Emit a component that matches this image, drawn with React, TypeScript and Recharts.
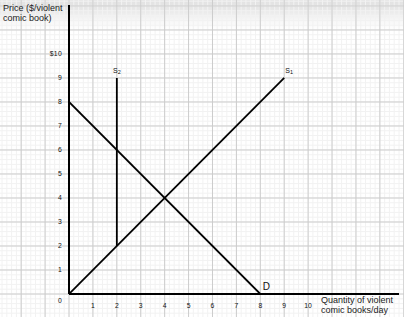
import React from "react";
import { ComposedChart, Line, XAxis, YAxis, CartesianGrid, ReferenceDot } from "recharts";

const demandQty = [0, 8];
const demandPrice = [8, 0];
const s1Qty = [0, 9];
const s1Price = [0, 9];
const s2Qty = [2, 2];
const s2Price = [2, 9];
const xTicks = [1, 2, 3, 4, 5, 6, 7, 8, 9, 10];
const yTicks = [0, 1, 2, 3, 4, 5, 6, 7, 8, 9, 10];
const yTickLabels = ["0", "1", "2", "3", "4", "5", "6", "7", "8", "9", "$10"];
const xTitle = ["Quantity of violent", "comic books/day"];
const yTitle = ["Price ($/violent", "comic book)"];

const toPts = (q: number[], p: number[]) => q.map((v, i) => ({ q: v, p: p[i] }));
const demandData = toPts(demandQty, demandPrice);
const s1Data = toPts(s1Qty, s1Price);
const s2Data = toPts(s2Qty, s2Price);

const W = 404;
const H = 317;
const X_MAX = 13.8;
const Y_MAX = 12.04;

const FONT = "'Liberation Sans', Arial, sans-serif";

const range = (a: number, b: number, step: number) => {
  const out: number[] = [];
  for (let v = a; v <= b + 1e-9; v += step) out.push(Math.round(v * 1000) / 1000);
  return out;
};

const makeV = (step: number) => (props: any) => {
  const off = props.offset || {};
  const s = props.xAxis && props.xAxis.scale;
  const f = (k: number) =>
    typeof s === "function" ? s(k) : off.left + (k / X_MAX) * off.width;
  return range(-4, 15, step).map(f).filter((v: number) => v >= 0 && v <= W);
};
const makeH = (step: number) => (props: any) => {
  const off = props.offset || {};
  const s = props.yAxis && props.yAxis.scale;
  const f = (k: number) =>
    typeof s === "function" ? s(k) : off.top + off.height - (k / Y_MAX) * off.height;
  return range(-2, 14, step).map(f).filter((v: number) => v >= 0 && v <= H);
};

const XTick = (props: any) => {
  const { x, y, payload } = props;
  return (
    <text x={x} y={y + 14} textAnchor="middle" fontFamily={FONT} fontSize={6.8} fill="#111">
      {payload.value}
    </text>
  );
};

const YTick = (props: any) => {
  const { x, y, payload } = props;
  const idx = yTicks.indexOf(payload.value);
  const label = idx >= 0 ? yTickLabels[idx] : String(payload.value);
  const dy = payload.value === 0 ? 8.5 : 2.5;
  return (
    <text x={x - 7} y={y + dy} textAnchor="end" fontFamily={FONT} fontSize={6.8} fill="#111" letterSpacing={0.3}>
      {label}
    </text>
  );
};

const SLabel = (sub: string, dx: number) => (props: any) => {
  const vb = props.viewBox || {};
  const cx = (vb.x ?? 0) + (vb.width ?? 0) / 2;
  const cy = (vb.y ?? 0) + (vb.height ?? 0) / 2;
  return (
    <text x={cx + dx} y={cy - 5} textAnchor="middle" fontFamily={FONT} fontSize={7} fill="#111">
      S<tspan fontSize={5.5} dy={1.5}>{sub}</tspan>
    </text>
  );
};

const DLabel = (props: any) => {
  const vb = props.viewBox || {};
  const cx = (vb.x ?? 0) + (vb.width ?? 0) / 2;
  const cy = (vb.y ?? 0) + (vb.height ?? 0) / 2;
  return (
    <text x={cx + 6} y={cy - 4} textAnchor="middle" fontFamily={FONT} fontSize={10} fill="#111">
      D
    </text>
  );
};

export default function App() {
  return (
    <div style={{ position: "absolute", left: 0, top: 0, width: W, height: H, overflow: "hidden", background: "#fff" }}>
      <div
        style={{
          position: "absolute",
          left: 0,
          top: 0,
          width: W,
          height: 30,
          background: "linear-gradient(to bottom, #e2e2e2 0px, #e8e8e8 10px, #f6f6f6 20px, #ffffff 30px)",
        }}
      />
      <div style={{ position: "absolute", left: 0, top: 0 }}>
        <ComposedChart width={W} height={H} margin={{ top: 5, right: 5, bottom: 0, left: 39 }}>
          <CartesianGrid
            x={0}
            y={0}
            width={W}
            height={H}
            stroke="#f2f2f2"
            strokeWidth={1}
            verticalCoordinatesGenerator={makeV(0.2)}
            horizontalCoordinatesGenerator={makeH(0.2)}
          />
          <CartesianGrid
            x={0}
            y={0}
            width={W}
            height={H}
            stroke="#cccccc"
            strokeWidth={1}
            verticalCoordinatesGenerator={makeV(1)}
            horizontalCoordinatesGenerator={makeH(1)}
          />
          <XAxis
            type="number"
            dataKey="q"
            domain={[0, X_MAX]}
            ticks={xTicks}
            allowDataOverflow
            height={23}
            tickLine={false}
            tickSize={0}
            tickMargin={0}
            axisLine={{ stroke: "#000", strokeWidth: 2 }}
            tick={<XTick />}
            interval={0}
          />
          <YAxis
            type="number"
            dataKey="p"
            domain={[0, Y_MAX]}
            ticks={yTicks}
            allowDataOverflow
            width={30}
            tickLine={false}
            tickSize={0}
            tickMargin={0}
            axisLine={{ stroke: "#000", strokeWidth: 2 }}
            tick={<YTick />}
            interval={0}
          />
          <Line data={demandData} dataKey="p" type="linear" stroke="#000" strokeWidth={1.8} dot={false} isAnimationActive={false} />
          <Line data={s1Data} dataKey="p" type="linear" stroke="#000" strokeWidth={1.8} dot={false} isAnimationActive={false} />
          <Line data={s2Data} dataKey="p" type="linear" stroke="#000" strokeWidth={1.8} dot={false} isAnimationActive={false} />
          <ReferenceDot x={s2Qty[1]} y={s2Price[1]} r={0} stroke="none" fill="none" label={SLabel("2", 0)} />
          <ReferenceDot x={s1Qty[1]} y={s1Price[1]} r={0} stroke="none" fill="none" label={SLabel("1", 5)} />
          <ReferenceDot x={demandQty[1]} y={demandPrice[1]} r={0} stroke="none" fill="none" label={DLabel} />
        </ComposedChart>
      </div>
      <div style={{ position: "absolute", left: 3, top: 3, fontFamily: FONT, fontSize: 9, lineHeight: "10px", color: "#222", whiteSpace: "nowrap" }}>
        {yTitle.map((t) => (
          <div key={t}>{t}</div>
        ))}
      </div>
      <div style={{ position: "absolute", left: 321, top: 295, fontFamily: FONT, fontSize: 9, lineHeight: "10px", color: "#222", whiteSpace: "nowrap" }}>
        {xTitle.map((t) => (
          <div key={t}>{t}</div>
        ))}
      </div>
    </div>
  );
}
